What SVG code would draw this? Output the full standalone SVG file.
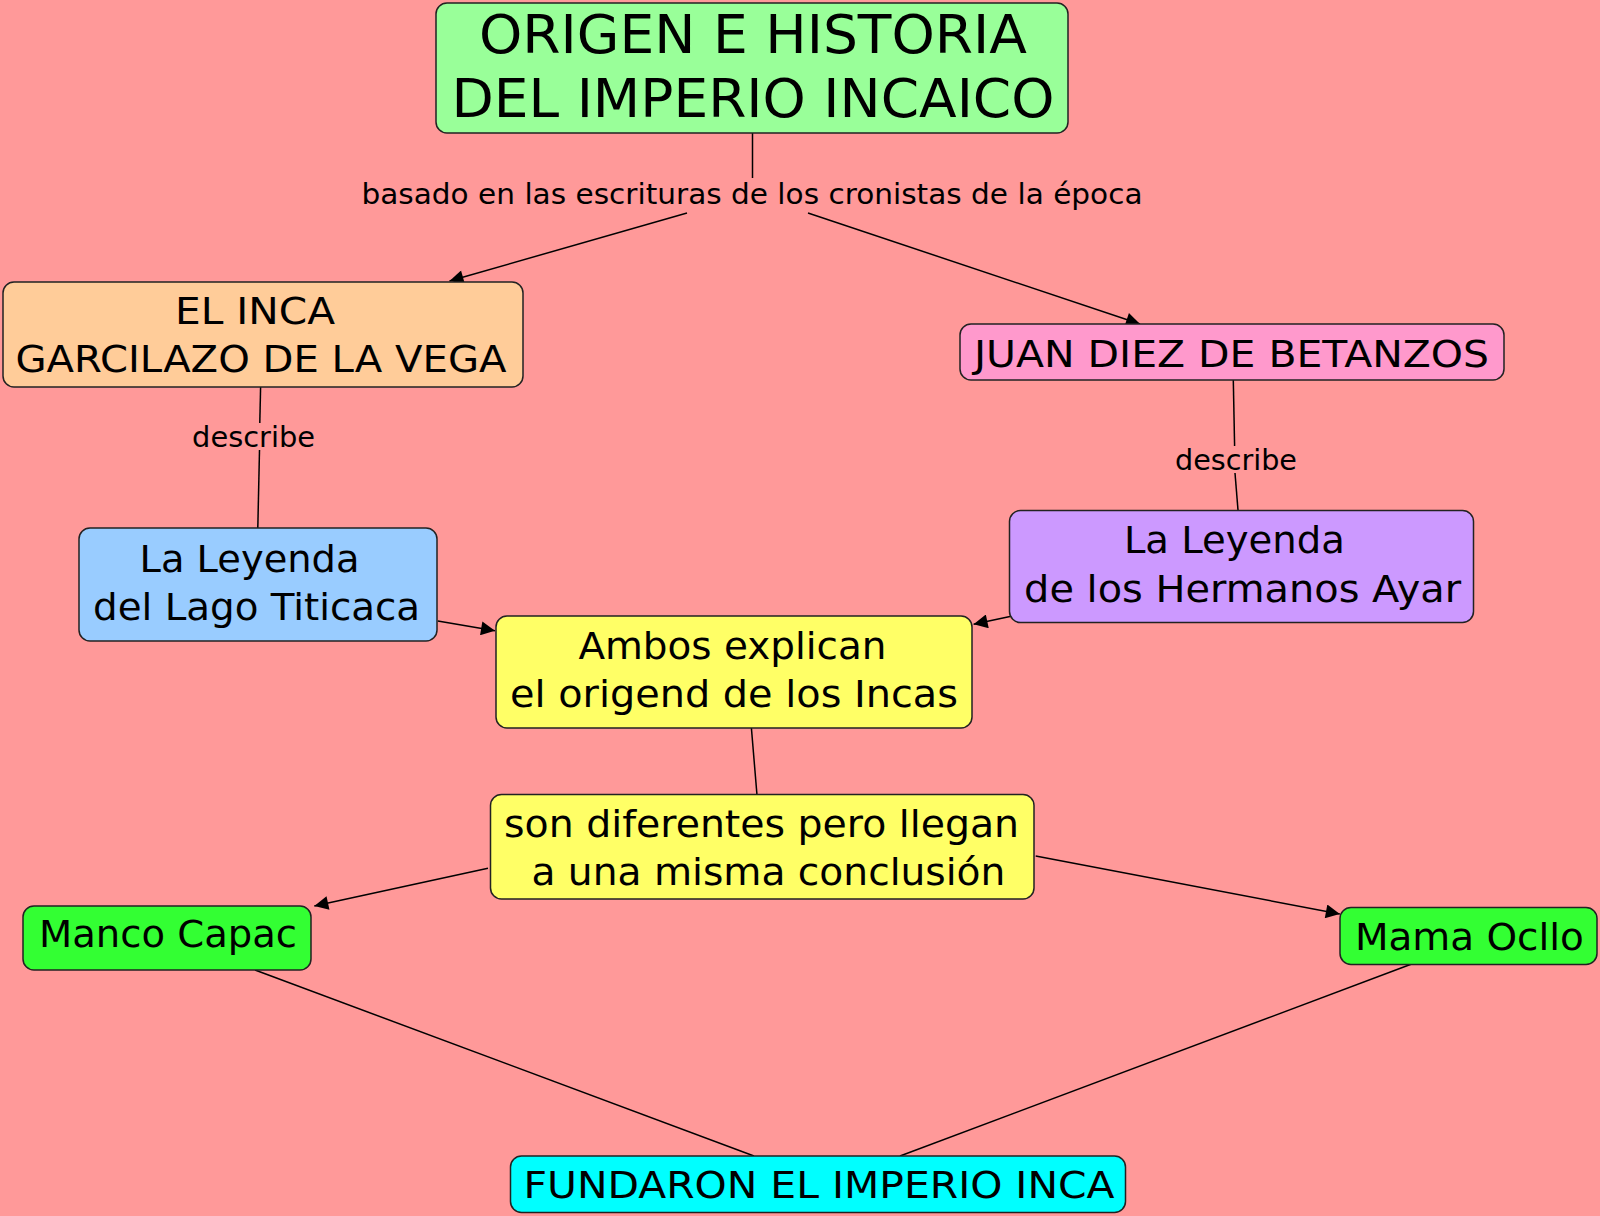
<svg xmlns="http://www.w3.org/2000/svg" width="1600" height="1216" viewBox="0 0 1600 1216">
<style>
.n rect{stroke:#222;stroke-width:1.5}
text{font-family:Verdana,"DejaVu Sans",sans-serif;fill:#000;text-anchor:middle}
.t{font-size:38px}
.h{font-size:54px}
.l{font-size:28px}
.c path{stroke:#000;stroke-width:1.5;fill:none}
</style>
<defs>
<marker id="ar" viewBox="0 0 10 10" refX="10" refY="5" markerUnits="userSpaceOnUse" markerWidth="17" markerHeight="14" orient="auto">
<path d="M0,0 L10,5 L0,10 z" fill="#000"/>
</marker>
</defs>
<rect x="0" y="0" width="1600" height="1216" fill="#FF9999"/>
<g id="connectors" class="c">
<path d="M752.5,133 L752.5,178"/>
<path d="M687,213 L449.5,281" marker-end="url(#ar)"/>
<path d="M808,213 L1140,324" marker-end="url(#ar)"/>
<path d="M260.6,387 L259.8,423"/>
<path d="M259.5,450 L257.8,528"/>
<path d="M1233.3,380 L1234.6,446"/>
<path d="M1235,473 L1238,510"/>
<path d="M437.8,621 L495,630.7" marker-end="url(#ar)"/>
<path d="M1010,616.5 L973.6,624.3" marker-end="url(#ar)"/>
<path d="M751.4,728 L756.9,794"/>
<path d="M488,868.3 L314.3,906" marker-end="url(#ar)"/>
<path d="M1035.7,856 L1339.8,914" marker-end="url(#ar)"/>
<path d="M255,970 L754,1156"/>
<path d="M1411,964.3 L900,1156"/>
<text class="l" x="752" y="204" textLength="781" lengthAdjust="spacingAndGlyphs">basado en las escrituras de los cronistas de la época</text>
<text class="l" x="253.6" y="447" textLength="123" lengthAdjust="spacingAndGlyphs">describe</text>
<text class="l" x="1236" y="470" textLength="122" lengthAdjust="spacingAndGlyphs">describe</text>
</g>
<g id="n-title" class="n">
<rect x="436" y="3" width="632" height="130" rx="11" fill="#99FF99"/>
<text class="h" x="753" y="53" textLength="548" lengthAdjust="spacingAndGlyphs">ORIGEN E HISTORIA</text>
<text class="h" x="753" y="117" textLength="603" lengthAdjust="spacingAndGlyphs">DEL IMPERIO INCAICO</text>
</g>
<g id="n-garcilazo" class="n">
<rect x="3" y="282" width="520" height="105" rx="11" fill="#FFCC99"/>
<text class="t" x="255" y="324" textLength="160" lengthAdjust="spacingAndGlyphs">EL INCA</text>
<text class="t" x="261" y="372" textLength="491" lengthAdjust="spacingAndGlyphs">GARCILAZO DE LA VEGA</text>
</g>
<g id="n-betanzos" class="n">
<rect x="960" y="324" width="544" height="56" rx="11" fill="#FF99CC"/>
<text class="t" x="1231.5" y="367" textLength="515" lengthAdjust="spacingAndGlyphs">JUAN DIEZ DE BETANZOS</text>
</g>
<g id="n-titicaca" class="n">
<rect x="79" y="528" width="358" height="113" rx="11" fill="#99CCFF"/>
<text class="t" x="249.5" y="572" textLength="220" lengthAdjust="spacingAndGlyphs">La Leyenda</text>
<text class="t" x="256.6" y="620" textLength="327" lengthAdjust="spacingAndGlyphs">del Lago Titicaca</text>
</g>
<g id="n-ayar" class="n">
<rect x="1009.5" y="510.5" width="464" height="112" rx="11" fill="#CC99FF"/>
<text class="t" x="1234.4" y="553" textLength="221" lengthAdjust="spacingAndGlyphs">La Leyenda</text>
<text class="t" x="1242.6" y="602" textLength="437" lengthAdjust="spacingAndGlyphs">de los Hermanos Ayar</text>
</g>
<g id="n-ambos" class="n">
<rect x="496" y="616" width="476" height="112" rx="11" fill="#FFFF66"/>
<text class="t" x="732.4" y="659" textLength="308" lengthAdjust="spacingAndGlyphs">Ambos explican</text>
<text class="t" x="734" y="707" textLength="448" lengthAdjust="spacingAndGlyphs">el origend de los Incas</text>
</g>
<g id="n-diferentes" class="n">
<rect x="490.5" y="794.5" width="543.5" height="104.5" rx="11" fill="#FFFF66"/>
<text class="t" x="761.6" y="837" textLength="515" lengthAdjust="spacingAndGlyphs">son diferentes pero llegan</text>
<text class="t" x="768.4" y="885" textLength="474" lengthAdjust="spacingAndGlyphs">a una misma conclusión</text>
</g>
<g id="n-manco" class="n">
<rect x="23" y="906" width="288" height="64" rx="11" fill="#33FF33"/>
<text class="t" x="168" y="947" textLength="258" lengthAdjust="spacingAndGlyphs">Manco Capac</text>
</g>
<g id="n-mama" class="n">
<rect x="1340" y="907.5" width="257" height="57" rx="11" fill="#33FF33"/>
<text class="t" x="1469.4" y="950" textLength="229" lengthAdjust="spacingAndGlyphs">Mama Ocllo</text>
</g>
<g id="n-fundaron" class="n">
<rect x="510.5" y="1156" width="615" height="56.5" rx="11" fill="#00FFFF"/>
<text class="t" x="819" y="1198" textLength="591" lengthAdjust="spacingAndGlyphs">FUNDARON EL IMPERIO INCA</text>
</g>
</svg>
